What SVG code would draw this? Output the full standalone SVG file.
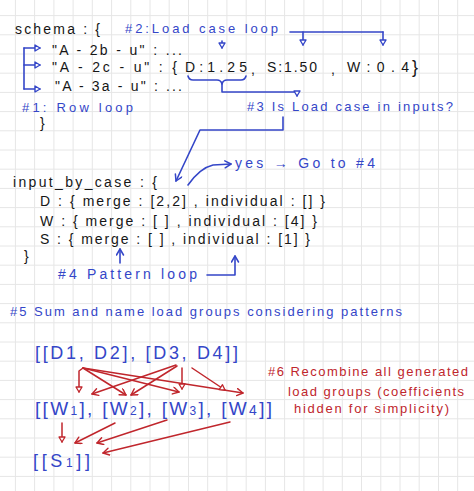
<svg xmlns="http://www.w3.org/2000/svg" width="474" height="491" viewBox="0 0 474 491">
<style>
text{font-family:"Liberation Sans","DejaVu Sans",sans-serif}
.k{fill:#161616;font-size:14px}
.b{fill:#3446c8;font-size:13px}
.bl{fill:#3446c8}
.r{fill:#c0262c;font-size:13px}
.bs{fill:none;stroke:#3446c8;stroke-width:1.6;stroke-linecap:round;stroke-linejoin:round}
.rs{fill:none;stroke:#c0262c;stroke-width:1.5;stroke-linecap:round;stroke-linejoin:round}
.grid{fill:none;stroke:#e6e6e6;stroke-width:1}
</style>
<defs>
<marker id="bv" markerUnits="userSpaceOnUse" markerWidth="10" markerHeight="10" refX="7" refY="4" orient="auto"><path d="M1,0.5 L7,4 L1,7.5" fill="none" stroke="#3446c8" stroke-width="1.5" stroke-linecap="round" stroke-linejoin="round"/></marker>
<marker id="bt" markerUnits="userSpaceOnUse" markerWidth="10" markerHeight="10" refX="6" refY="4" orient="auto"><path d="M1,1 L6,4 L1,7 Z" fill="#fff" stroke="#3446c8" stroke-width="1.4" stroke-linejoin="round"/></marker>
<marker id="rv" markerUnits="userSpaceOnUse" markerWidth="10" markerHeight="10" refX="7" refY="4" orient="auto"><path d="M1,0.5 L7,4 L1,7.5" fill="none" stroke="#c0262c" stroke-width="1.4" stroke-linecap="round" stroke-linejoin="round"/></marker>
<marker id="rt" markerUnits="userSpaceOnUse" markerWidth="10" markerHeight="10" refX="6" refY="4" orient="auto"><path d="M1,1 L6,4 L1,7 Z" fill="#fff" stroke="#c0262c" stroke-width="1.3" stroke-linejoin="round"/></marker>
</defs>
<rect width="474" height="491" fill="#fff"/>
<path class="grid" d="M15.4,0V491M34.6,0V491M53.9,0V491M73.1,0V491M92.3,0V491M111.6,0V491M130.8,0V491M150,0V491M169.2,0V491M188.5,0V491M207.7,0V491M226.9,0V491M246.2,0V491M265.4,0V491M284.6,0V491M303.9,0V491M323.1,0V491M342.3,0V491M361.5,0V491M380.8,0V491M400,0V491M419.2,0V491M438.5,0V491M457.7,0V491M0,15.6H474M0,34.8H474M0,54H474M0,73.2H474M0,92.4H474M0,111.6H474M0,130.8H474M0,150H474M0,169.2H474M0,188.4H474M0,207.6H474M0,226.8H474M0,246H474M0,265.2H474M0,284.4H474M0,303.6H474M0,322.8H474M0,342H474M0,361.2H474M0,380.4H474M0,399.6H474M0,418.8H474M0,438H474M0,457.2H474M0,476.4H474"/>

<g id="schema">
<text class="k" x="15" y="34" textLength="85">schema : {</text>
<text class="k" x="52" y="55" textLength="130">"A - 2b - u" : ...</text>
<text class="k" x="52" y="72" textLength="125">"A - 2c - u" : {</text>
<text class="k" x="185" y="72" textLength="62">D:1.25</text>
<text class="k" x="251" y="74">,</text>
<text class="k" x="267" y="72" textLength="50">S:1.50</text>
<text class="k" x="331" y="74">,</text>
<text class="k" x="347" y="72" textLength="62">W:0.4</text>
<text class="k" x="412" y="73" style="font-size:18px">}</text>
<text class="k" x="55" y="91" textLength="127">"A - 3a - u" : ...</text>
<text class="k" x="40" y="128">}</text>
</g>

<g id="input_by_case">
<text class="k" x="13" y="187" textLength="144">input_by_case : {</text>
<text class="k" x="40" y="206" textLength="285">D : { merge : [2,2] , individual : [] }</text>
<text class="k" x="40" y="226" textLength="277">W : { merge : [ ] , individual : [4] }</text>
<text class="k" x="40" y="244" textLength="270">S : { merge : [ ] , individual : [1] }</text>
<text class="k" x="24" y="261">}</text>
</g>

<g id="notes-blue">
<text class="b" x="125" y="33" textLength="153">#2:Load case loop</text>
<text class="b" x="22" y="112" textLength="111">#1: Row loop</text>
<text class="b" x="247" y="111" textLength="206">#3 Is Load case in inputs?</text>
<text class="b" x="235" y="168" textLength="140" style="font-size:14px">yes → Go to #4</text>
<text class="b" x="58" y="279" textLength="139" style="font-size:14px">#4 Pattern loop</text>
<text class="b" x="10" y="316" textLength="392">#5 Sum and name load groups considering patterns</text>
</g>

<g id="load-groups">
<text class="bl" x="35" y="359" textLength="203" style="font-size:18px">[[D1, D2], [D3, D4]]</text>
<text class="bl" x="35" y="415" textLength="237" style="font-size:19px">[[W<tspan style="font-size:12px">1</tspan>], [W<tspan style="font-size:12px">2</tspan>], [W<tspan style="font-size:12px">3</tspan>], [W<tspan style="font-size:14px">4</tspan>]]</text>
<text class="bl" x="33" y="467" textLength="57" style="font-size:18px">[[S<tspan style="font-size:12px">1</tspan>]]</text>
</g>

<g id="note-red">
<text class="r" x="268" y="376" textLength="200">#6 Recombine all generated</text>
<text class="r" x="288" y="396" textLength="176">load groups (coefficients</text>
<text class="r" x="294" y="413" textLength="155">hidden for simplicity)</text>
</g>

<g id="connectors">
<path class="bs" d="M24,48 V89"/>
<path class="bs" d="M24,48 H40" marker-end="url(#bt)"/>
<path class="bs" d="M24,65 H40" marker-end="url(#bt)"/>
<path class="bs" d="M24,89 H40" marker-end="url(#bt)"/>
<path class="bs" d="M290,32 H383"/>
<path class="bs" d="M303,32 V45" marker-end="url(#bt)"/>
<path class="bs" d="M383,32 V45" marker-end="url(#bt)"/>
<path class="bs" d="M222,41 V48" marker-end="url(#bt)"/>
<path class="bs" d="M188,76 Q189,80 193,80 L217,80 Q221,80 222,84 Q223,80 227,80 L241,80 Q245,80 246,76"/>
<path class="bs" d="M222,84 V92 H297 V96" marker-end="url(#bt)"/>
<path class="bs" d="M283,117 V130 H200 L176,181" marker-end="url(#bv)"/>
<path class="bs" d="M188,185 Q200,168 213,165 L231,164" marker-end="url(#bv)"/>
<path class="bs" d="M120,263 V249" marker-end="url(#bv)"/>
<path class="bs" d="M207,275 H235 V256" marker-end="url(#bv)"/>

<path class="rs" d="M83,368 L79,371 V392" marker-end="url(#rt)"/>
<path class="rs" d="M83,368 L126,395" marker-end="url(#rv)"/>
<path class="rs" d="M83,368 L179,392" marker-end="url(#rv)"/>
<path class="rs" d="M83,368 L243,393" marker-end="url(#rv)"/>
<path class="rs" d="M176,365 L92,394" marker-end="url(#rv)"/>
<path class="rs" d="M177,366 L131,395" marker-end="url(#rv)"/>
<path class="rs" d="M182,368 V389" marker-end="url(#rt)"/>
<path class="rs" d="M192,368 L225,390" marker-end="url(#rt)"/>
<path class="rs" d="M62,423 V442" marker-end="url(#rt)"/>
<path class="rs" d="M115,423 L75,443" marker-end="url(#rv)"/>
<path class="rs" d="M167,420 L97,443" marker-end="url(#rv)"/>
<path class="rs" d="M230,422 L103,453" marker-end="url(#rv)"/>
</g>
</svg>
